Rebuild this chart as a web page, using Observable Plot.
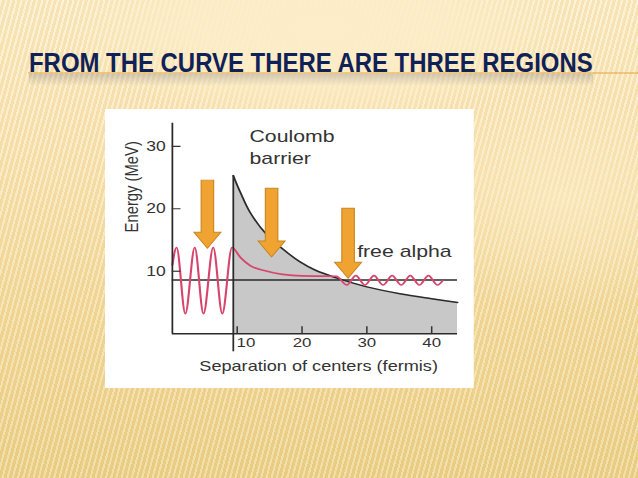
<!DOCTYPE html>
<html><head><meta charset="utf-8">
<script src="https://cdn.jsdelivr.net/npm/d3@7"></script>
<script src="https://cdn.jsdelivr.net/npm/@observablehq/plot@0.6"></script>
<style>
html,body{margin:0;padding:0;background:#fbe9bd;}
#slide{position:relative;width:638px;height:478px;overflow:hidden;
background:
 radial-gradient(ellipse 250px 95px at 50% 6%, rgba(253,237,200,1) 0%, rgba(253,237,200,0.9) 45%, rgba(253,237,200,0) 100%),
 radial-gradient(ellipse 170px 110px at 88% 42%, rgba(253,240,205,0.55) 0%, rgba(253,240,205,0) 100%),
 repeating-linear-gradient(105deg, rgba(255,255,255,0.25) 0px, rgba(255,255,255,0.25) 2px, rgba(200,150,60,0.12) 2px, rgba(200,150,60,0.12) 5px),
 linear-gradient(180deg, #fdeec7 0%, #fbe7b8 30%, #f4dc9e 65%, #edd38b 100%);
}
#title{position:absolute;left:0;top:0;}
#chart{position:absolute;left:105px;top:109px;}
#chart svg{transform:scaleX(1.25);transform-origin:0 0;display:block;}
</style></head>
<body>
<div id="slide">
<svg id="title" width="638" height="100">
  <defs>
    <linearGradient id="rg" x1="0" y1="0" x2="0" y2="1">
      <stop offset="0" stop-color="#6a6e80" stop-opacity="0.28"/>
      <stop offset="1" stop-color="#6a6e80" stop-opacity="0"/>
    </linearGradient>
  </defs>
  <rect x="29" y="74" width="564" height="12" fill="url(#rg)"/>
  <line x1="28" y1="73" x2="638" y2="73" stroke="#e2a444" stroke-width="1.2"/>
  <text id="titleText" transform="translate(29,71.7)" x="0" y="0" font-family="'Liberation Sans',Arial,sans-serif" font-weight="bold" font-size="27" fill="#0f2157">FROM THE CURVE THERE ARE THREE REGIONS</text>
</svg>
<div id="chart"></div>
</div>
<script>
// fit title width with a horizontal scale
(function () {
  const t = document.getElementById("titleText");
  const w = t.getComputedTextLength();
  const k = 564 / w;
  t.setAttribute("transform", `translate(29,71.7) scale(${k},1)`);
})();

// ---- data ----
const xTicks = [10, 20, 30, 40];
const yTicks = [10, 20, 30];
const xLabel = "Separation of centers (fermis)";
const yLabel = "Energy (MeV)";

// Coulomb barrier curve (fermis, MeV)
const coulombX = [9.4, 10.5, 12, 14.6, 17.7, 19.7, 22, 25.4, 30, 35.1, 40, 44];
const coulombY = [25.3, 22.6, 19.4, 15.8, 13.0, 11.5, 10.2, 8.9, 7.5, 6.4, 5.6, 5.0];

// alpha wave function (extrema and shape points)
const waveX = [0, 0.65, 2.0, 3.45, 4.8, 6.3, 7.7, 9.2, 10.5, 12.0, 14.6, 17.0, 20.0, 25.3, 26.9, 28.3, 29.7, 31.1, 32.5, 33.9, 35.3, 36.7, 38.1, 39.5, 40.9, 41.7];
const waveY = [11.0, 13.8, 3.2, 13.8, 3.2, 13.8, 3.2, 13.8, 12.2, 10.9, 10.0, 9.5, 9.25, 9.2, 7.8, 9.3, 7.8, 9.3, 7.8, 9.3, 7.8, 9.3, 7.8, 9.3, 7.8, 8.5];

// alpha energy level
const alphaEnergy = [8.6];

// nuclear edge
const barrierX = [9.4];
const barrierTop = [25.3];
const barrierBottom = [-2.9];

// annotations
const labelText = ["Coulomb\nbarrier", "free alpha"];
const labelX = [11.9, 28.5];
const labelY = [27.2, 12.2];

// three region arrows
const arrowX = [5.5, 15.4, 27.2];
const arrowTop = [24.5, 23.2, 20.0];
const arrowTip = [13.6, 12.2, 8.8];

// ---- tables ----
const coulomb = coulombX.map((x, i) => ({x, y: coulombY[i]}));
const wave = waveX.map((x, i) => ({x, y: waveY[i]}));
const barrier = barrierX.map((x, i) => ({x, y1: barrierBottom[i], y2: barrierTop[i]}));
const labels = labelText.map((t, i) => ({t, x: labelX[i], y: labelY[i]}));

const ink = "#2b2b2b";
const plot = Plot.plot({
  width: 295,
  height: 279,
  marginLeft: 53.4,
  marginRight: 13.4,
  marginTop: 13.7,
  marginBottom: 54.8,
  style: {background: "#fff", color: "#333", fontFamily: "'Liberation Sans', Arial, sans-serif", fontSize: "14px"},
  x: {domain: [0, 44], label: null},
  y: {domain: [0, 33.7], label: null},
  marks: [
    Plot.areaY(coulomb, {x: "x", y: "y", fill: "#c8c8c8", curve: "catmull-rom"}),
    Plot.ruleY(alphaEnergy, {stroke: ink, strokeWidth: 1.3}),
    Plot.line(coulomb, {x: "x", y: "y", stroke: ink, strokeWidth: 1.5, curve: "catmull-rom"}),
    Plot.line(wave, {x: "x", y: "y", stroke: "#d8456c", strokeWidth: 1.7, curve: "monotone-x"}),
    Plot.ruleX(barrier, {x: "x", y1: "y1", y2: "y2", stroke: ink, strokeWidth: 1.4}),
    Plot.ruleX([0], {stroke: ink, strokeWidth: 1.4}),
    Plot.ruleY([0], {stroke: ink, strokeWidth: 1.5}),
    Plot.axisY(yTicks, {tickSize: -7, tickPadding: 12.4, fontSize: 14, strokeWidth: 1.2, label: null}),
    Plot.axisX(xTicks, {tickSize: -7, tickFormat: () => "", strokeWidth: 1.2, label: null}),
    Plot.axisX(xTicks.slice(0, 1), {tickSize: 0, tickPadding: 4, dx: 7, fontSize: 13.5, label: null}),
    Plot.axisX(xTicks.slice(1), {tickSize: 0, tickPadding: 4, fontSize: 13.5, label: null}),
    Plot.text(labels, {x: "x", y: "y", text: "t", textAnchor: "start", lineAnchor: "bottom", fontSize: 17, lineHeight: 1.27, fill: "#333"}),
    Plot.text([yLabel], {frameAnchor: "left", text: d => d, rotate: -90, dx: -32, dy: 4, fontSize: 14.8, fill: "#333"}),
    Plot.text([xLabel], {frameAnchor: "bottom", text: d => d, dx: 2.9, dy: 36.8, lineAnchor: "bottom", fontSize: 14.5, fill: "#333"})
  ]
});

// arrows drawn through the plot's own scales
const sx = plot.scale("x"), sy = plot.scale("y");
const g = d3.select(plot).append("g").attr("class", "arrows");
const shaftHalf = 5, headHalf = 10.8, headLen = 16;
arrowX.forEach((x, i) => {
  const cx = sx.apply(x), yt = sy.apply(arrowTop[i]), yp = sy.apply(arrowTip[i]);
  const yb = yp - headLen;
  const pts = [
    [cx - shaftHalf, yt], [cx + shaftHalf, yt], [cx + shaftHalf, yb], [cx + headHalf, yb],
    [cx, yp], [cx - headHalf, yb], [cx - shaftHalf, yb]
  ];
  g.append("polygon")
    .attr("points", pts.map(p => p.join(",")).join(" "))
    .attr("fill", "#f0a330")
    .attr("stroke", "#c8861f")
    .attr("stroke-width", 0.9)
    .attr("stroke-linejoin", "miter");
});

document.getElementById("chart").appendChild(plot);
</script>
</body></html>
